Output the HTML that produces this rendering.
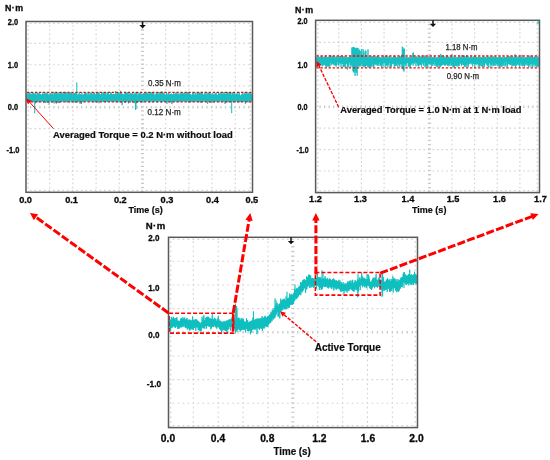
<!DOCTYPE html>
<html><head><meta charset="utf-8">
<style>
html,body{margin:0;padding:0;background:#fff;}
body{width:550px;height:460px;overflow:hidden;position:relative;}
svg{position:absolute;left:0;top:0;}
.ax{font-family:"Liberation Sans",Arial,sans-serif;font-weight:bold;fill:#0a0a0a;stroke:#0a0a0a;stroke-width:0.3px;}
.cb{font-family:"Liberation Sans",Arial,sans-serif;font-weight:bold;fill:#0d0d0d;stroke:#0d0d0d;stroke-width:0.2px;}
.cr{font-family:"Liberation Sans",Arial,sans-serif;fill:#262626;stroke:#262626;stroke-width:0.25px;}
</style></head><body>
<svg width="550" height="460" viewBox="0 0 550 460">

<line x1="49.70" y1="21.5" x2="49.70" y2="192.3" stroke="#d3d3d3" stroke-width="1.1" stroke-dasharray="1.7 2.560" stroke-dashoffset="0.850"/>
<line x1="72.90" y1="21.5" x2="72.90" y2="192.3" stroke="#d3d3d3" stroke-width="1.1" stroke-dasharray="1.7 2.560" stroke-dashoffset="0.850"/>
<line x1="96.10" y1="21.5" x2="96.10" y2="192.3" stroke="#d3d3d3" stroke-width="1.1" stroke-dasharray="1.7 2.560" stroke-dashoffset="0.850"/>
<line x1="119.30" y1="21.5" x2="119.30" y2="192.3" stroke="#d3d3d3" stroke-width="1.1" stroke-dasharray="1.7 2.560" stroke-dashoffset="0.850"/>
<line x1="165.70" y1="21.5" x2="165.70" y2="192.3" stroke="#d3d3d3" stroke-width="1.1" stroke-dasharray="1.7 2.560" stroke-dashoffset="0.850"/>
<line x1="188.90" y1="21.5" x2="188.90" y2="192.3" stroke="#d3d3d3" stroke-width="1.1" stroke-dasharray="1.7 2.560" stroke-dashoffset="0.850"/>
<line x1="212.10" y1="21.5" x2="212.10" y2="192.3" stroke="#d3d3d3" stroke-width="1.1" stroke-dasharray="1.7 2.560" stroke-dashoffset="0.850"/>
<line x1="235.30" y1="21.5" x2="235.30" y2="192.3" stroke="#d3d3d3" stroke-width="1.1" stroke-dasharray="1.7 2.560" stroke-dashoffset="0.850"/>
<line x1="26.0" y1="43.40" x2="252.5" y2="43.40" stroke="#d3d3d3" stroke-width="1.1" stroke-dasharray="1.7 2.940" stroke-dashoffset="0.850"/>
<line x1="26.0" y1="64.70" x2="252.5" y2="64.70" stroke="#d3d3d3" stroke-width="1.1" stroke-dasharray="1.7 2.940" stroke-dashoffset="0.850"/>
<line x1="26.0" y1="86.00" x2="252.5" y2="86.00" stroke="#d3d3d3" stroke-width="1.1" stroke-dasharray="1.7 2.940" stroke-dashoffset="0.850"/>
<line x1="26.0" y1="128.60" x2="252.5" y2="128.60" stroke="#d3d3d3" stroke-width="1.1" stroke-dasharray="1.7 2.940" stroke-dashoffset="0.850"/>
<line x1="26.0" y1="149.90" x2="252.5" y2="149.90" stroke="#d3d3d3" stroke-width="1.1" stroke-dasharray="1.7 2.940" stroke-dashoffset="0.850"/>
<line x1="26.0" y1="171.20" x2="252.5" y2="171.20" stroke="#d3d3d3" stroke-width="1.1" stroke-dasharray="1.7 2.940" stroke-dashoffset="0.850"/>
<line x1="28.20" y1="21.5" x2="28.20" y2="192.3" stroke="#d3d3d3" stroke-width="1.2" stroke-dasharray="1.7 2.560" stroke-dashoffset="0.850"/>
<line x1="250.30" y1="21.5" x2="250.30" y2="192.3" stroke="#d3d3d3" stroke-width="1.2" stroke-dasharray="1.7 2.560" stroke-dashoffset="0.850"/>
<line x1="26.0" y1="23.50" x2="252.5" y2="23.50" stroke="#d3d3d3" stroke-width="1.2" stroke-dasharray="1.7 2.940" stroke-dashoffset="0.850"/>
<line x1="26.0" y1="190.30" x2="252.5" y2="190.30" stroke="#d3d3d3" stroke-width="1.2" stroke-dasharray="1.7 2.940" stroke-dashoffset="0.850"/>
<line x1="142.50" y1="21.5" x2="142.50" y2="192.3" stroke="#c9c9c9" stroke-width="3" stroke-dasharray="1.3 2.960" stroke-dashoffset="0.65"/>
<line x1="26.0" y1="107.30" x2="252.5" y2="107.30" stroke="#c9c9c9" stroke-width="2.6" stroke-dasharray="1.3 3.340" stroke-dashoffset="0.65"/>
<polyline points="26.60,93.77 26.95,101.83 27.30,93.16 27.65,101.24 28.00,95.03 28.35,101.24 28.70,93.47 29.05,101.28 29.40,92.93 29.75,101.72 30.10,92.15 30.45,102.37 30.80,94.44 31.15,101.42 31.50,94.28 31.85,101.81 32.20,93.13 32.55,101.24 32.90,92.80 33.25,101.43 33.60,93.39 33.95,102.15 34.30,94.04 34.65,101.65 35.00,92.69 35.35,103.55 35.70,93.49 36.05,101.30 36.40,95.01 36.75,102.07 37.10,92.36 37.45,101.91 37.80,93.05 38.15,102.30 38.50,93.33 38.85,101.24 39.20,92.88 39.55,102.24 39.90,93.58 40.25,101.21 40.60,94.33 40.95,101.24 41.30,94.50 41.65,101.50 42.00,94.75 42.35,101.68 42.70,92.48 43.05,101.40 43.40,93.66 43.75,103.10 44.10,94.30 44.45,101.36 44.80,93.02 45.15,101.20 45.50,93.63 45.85,103.04 46.20,93.22 46.55,101.88 46.90,92.31 47.25,102.45 47.60,93.56 47.95,101.27 48.30,94.86 48.65,101.34 49.00,93.72 49.35,101.20 49.70,94.64 50.05,101.22 50.40,92.96 50.75,101.37 51.10,93.65 51.45,102.33 51.80,93.35 52.15,101.25 52.50,93.71 52.85,102.26 53.20,95.15 53.55,101.65 53.90,91.85 54.25,103.50 54.60,92.76 54.95,101.47 55.30,92.59 55.65,102.11 56.00,94.12 56.35,103.72 56.70,92.51 57.05,102.01 57.40,93.21 57.75,102.78 58.10,93.99 58.45,103.08 58.80,92.23 59.15,103.06 59.50,94.13 59.85,101.33 60.20,92.94 60.55,102.30 60.90,92.87 61.25,101.25 61.60,92.29 61.95,102.03 62.30,94.29 62.65,101.44 63.00,92.16 63.35,101.51 63.70,92.70 64.05,101.28 64.40,92.30 64.75,101.29 65.10,92.14 65.45,101.46 65.80,92.54 66.15,101.83 66.50,92.24 66.85,102.43 67.20,94.16 67.55,101.41 67.90,93.03 68.25,101.53 68.60,92.29 68.95,101.57 69.30,92.30 69.65,102.70 70.00,93.17 70.35,101.21 70.70,92.57 71.05,101.31 71.40,92.70 71.75,101.44 72.10,93.11 72.45,101.27 72.80,94.03 73.15,102.09 73.50,93.09 73.85,102.66 74.20,92.97 74.55,101.63 74.90,93.39 75.25,101.59 75.60,92.76 75.95,102.91 76.30,93.10 76.65,102.30 77.00,94.54 77.35,101.25 77.70,94.79 78.05,102.12 78.40,94.39 78.75,101.85 79.10,92.34 79.45,101.35 79.80,93.54 80.15,103.96 80.50,94.36 80.85,101.63 81.20,94.22 81.55,104.08 81.90,92.42 82.25,101.79 82.60,94.84 82.95,102.13 83.30,94.62 83.65,101.22 84.00,93.95 84.35,101.53 84.70,92.48 85.05,101.30 85.40,93.07 85.75,101.26 86.10,92.78 86.45,101.25 86.80,92.91 87.15,101.25 87.50,94.83 87.85,101.56 88.20,93.12 88.55,101.39 88.90,93.19 89.25,101.27 89.60,94.93 89.95,101.42 90.30,92.62 90.65,101.62 91.00,92.82 91.35,101.21 91.70,93.12 92.05,101.59 92.40,94.61 92.75,101.54 93.10,92.45 93.45,101.62 93.80,92.14 94.15,102.27 94.50,92.91 94.85,101.46 95.20,94.50 95.55,102.01 95.90,94.35 96.25,102.30 96.60,92.82 96.95,101.37 97.30,93.37 97.65,101.55 98.00,92.18 98.35,101.68 98.70,92.17 99.05,103.23 99.40,93.33 99.75,101.33 100.10,95.36 100.45,101.26 100.80,94.04 101.15,101.36 101.50,93.18 101.85,101.84 102.20,92.35 102.55,101.44 102.90,94.41 103.25,101.82 103.60,92.45 103.95,101.79 104.30,92.50 104.65,101.65 105.00,92.45 105.35,102.25 105.70,92.32 106.05,101.91 106.40,95.08 106.75,101.47 107.10,92.45 107.45,101.79 107.80,92.80 108.15,101.20 108.50,92.64 108.85,101.66 109.20,94.83 109.55,101.37 109.90,93.97 110.25,101.34 110.60,92.15 110.95,101.49 111.30,92.79 111.65,101.78 112.00,94.77 112.35,101.38 112.70,93.83 113.05,101.21 113.40,93.95 113.75,101.91 114.10,93.88 114.45,101.57 114.80,94.55 115.15,101.33 115.50,91.04 115.85,102.23 116.20,93.40 116.55,101.34 116.90,94.16 117.25,101.29 117.60,92.20 117.95,102.23 118.30,92.34 118.65,101.36 119.00,92.79 119.35,101.61 119.70,93.84 120.05,101.45 120.40,90.81 120.75,102.30 121.10,92.25 121.45,102.59 121.80,93.62 122.15,105.23 122.50,93.66 122.85,101.39 123.20,94.64 123.55,101.40 123.90,94.02 124.25,101.63 124.60,93.62 124.95,102.49 125.30,92.92 125.65,102.90 126.00,92.71 126.35,101.99 126.70,92.63 127.05,101.40 127.40,92.25 127.75,101.58 128.10,93.86 128.45,103.45 128.80,92.86 129.15,101.69 129.50,94.34 129.85,101.34 130.20,93.26 130.55,102.62 130.90,93.39 131.25,101.33 131.60,93.71 131.95,101.36 132.30,93.07 132.65,102.03 133.00,93.50 133.35,101.48 133.70,94.86 134.05,103.26 134.40,93.25 134.75,102.39 135.10,93.95 135.45,101.51 135.80,92.19 136.15,103.50 136.50,92.73 136.85,101.58 137.20,95.48 137.55,102.77 137.90,92.40 138.25,101.37 138.60,94.39 138.95,101.89 139.30,92.70 139.65,102.07 140.00,93.12 140.35,102.11 140.70,92.27 141.05,101.42 141.40,94.01 141.75,101.92 142.10,94.81 142.45,101.72 142.80,94.12 143.15,101.21 143.50,93.36 143.85,101.82 144.20,93.32 144.55,101.37 144.90,92.74 145.25,101.21 145.60,92.82 145.95,101.38 146.30,92.26 146.65,101.22 147.00,93.48 147.35,101.33 147.70,92.66 148.05,101.34 148.40,93.81 148.75,101.36 149.10,92.62 149.45,103.02 149.80,94.26 150.15,101.52 150.50,92.21 150.85,101.50 151.20,92.15 151.55,101.23 151.90,93.56 152.25,102.49 152.60,92.11 152.95,101.44 153.30,92.23 153.65,101.22 154.00,93.60 154.35,101.44 154.70,95.40 155.05,101.46 155.40,94.53 155.75,101.34 156.10,92.48 156.45,101.54 156.80,93.33 157.15,102.71 157.50,93.65 157.85,101.22 158.20,92.50 158.55,101.22 158.90,94.86 159.25,101.38 159.60,92.31 159.95,101.39 160.30,92.96 160.65,101.96 161.00,92.30 161.35,102.69 161.70,91.37 162.05,101.59 162.40,92.19 162.75,101.37 163.10,93.27 163.45,101.32 163.80,92.67 164.15,102.09 164.50,93.76 164.85,101.47 165.20,94.76 165.55,102.04 165.90,94.84 166.25,101.68 166.60,92.14 166.95,103.84 167.30,94.73 167.65,101.61 168.00,93.40 168.35,101.52 168.70,92.82 169.05,102.33 169.40,94.54 169.75,101.41 170.10,93.62 170.45,101.33 170.80,94.04 171.15,102.49 171.50,93.76 171.85,104.13 172.20,94.09 172.55,101.84 172.90,94.63 173.25,102.23 173.60,92.28 173.95,101.41 174.30,94.25 174.65,101.73 175.00,93.62 175.35,101.56 175.70,92.58 176.05,101.27 176.40,92.95 176.75,101.48 177.10,94.19 177.45,101.75 177.80,93.20 178.15,101.88 178.50,93.81 178.85,102.15 179.20,94.85 179.55,101.50 179.90,92.90 180.25,101.31 180.60,93.51 180.95,101.42 181.30,93.81 181.65,101.47 182.00,92.38 182.35,101.47 182.70,92.69 183.05,101.20 183.40,93.47 183.75,101.51 184.10,93.36 184.45,101.21 184.80,92.90 185.15,101.26 185.50,93.63 185.85,101.29 186.20,93.20 186.55,101.27 186.90,92.52 187.25,101.33 187.60,92.22 187.95,101.60 188.30,92.25 188.65,102.61 189.00,92.47 189.35,102.12 189.70,93.52 190.05,102.26 190.40,94.14 190.75,101.64 191.10,94.53 191.45,101.97 191.80,95.00 192.15,102.05 192.50,92.44 192.85,101.75 193.20,92.93 193.55,101.53 193.90,93.46 194.25,101.56 194.60,95.14 194.95,101.60 195.30,92.61 195.65,101.57 196.00,93.33 196.35,101.28 196.70,94.69 197.05,101.63 197.40,92.91 197.75,101.99 198.10,93.23 198.45,101.62 198.80,92.20 199.15,102.37 199.50,92.68 199.85,101.33 200.20,93.28 200.55,102.69 200.90,92.55 201.25,101.24 201.60,92.62 201.95,102.56 202.30,92.49 202.65,101.62 203.00,94.17 203.35,101.62 203.70,95.03 204.05,101.31 204.40,92.80 204.75,101.31 205.10,94.57 205.45,101.81 205.80,92.37 206.15,101.72 206.50,94.62 206.85,101.80 207.20,92.53 207.55,103.99 207.90,93.66 208.25,101.55 208.60,92.65 208.95,102.23 209.30,92.90 209.65,101.73 210.00,93.26 210.35,101.30 210.70,93.44 211.05,102.56 211.40,94.10 211.75,102.92 212.10,94.61 212.45,101.35 212.80,93.02 213.15,101.79 213.50,94.48 213.85,101.37 214.20,94.67 214.55,102.43 214.90,93.53 215.25,101.21 215.60,93.09 215.95,101.82 216.30,92.23 216.65,101.37 217.00,94.98 217.35,101.51 217.70,94.88 218.05,101.21 218.40,92.22 218.75,101.33 219.10,93.24 219.45,102.21 219.80,93.82 220.15,101.23 220.50,92.56 220.85,101.20 221.20,92.65 221.55,102.01 221.90,94.11 222.25,101.36 222.60,93.73 222.95,101.91 223.30,92.73 223.65,101.68 224.00,92.55 224.35,101.38 224.70,92.17 225.05,103.99 225.40,94.07 225.75,102.94 226.10,93.76 226.45,101.44 226.80,92.29 227.15,101.91 227.50,92.14 227.85,102.30 228.20,92.40 228.55,101.97 228.90,93.82 229.25,101.78 229.60,92.29 229.95,101.22 230.30,92.25 230.65,102.38 231.00,92.77 231.35,101.92 231.70,94.84 232.05,101.47 232.40,92.48 232.75,101.24 233.10,92.28 233.45,101.27 233.80,94.59 234.15,102.33 234.50,92.91 234.85,101.80 235.20,94.65 235.55,102.05 235.90,93.79 236.25,101.21 236.60,93.91 236.95,101.48 237.30,92.17 237.65,102.34 238.00,95.08 238.35,101.54 238.70,93.70 239.05,101.66 239.40,92.39 239.75,102.23 240.10,95.44 240.45,102.06 240.80,95.37 241.15,101.61 241.50,94.27 241.85,101.46 242.20,93.98 242.55,101.40 242.90,92.76 243.25,101.27 243.60,94.75 243.95,101.92 244.30,92.93 244.65,101.51 245.00,92.33 245.35,103.93 245.70,93.97 246.05,101.62 246.40,92.34 246.75,101.57 247.10,92.63 247.45,101.82 247.80,93.76 248.15,102.31 248.50,92.66 248.85,101.55 249.20,93.05 249.55,101.57 249.90,94.06 250.25,101.42 250.60,92.43 250.95,101.30 251.30,93.76 251.65,101.31 252.00,94.25" fill="none" stroke="#0fbec0" stroke-width="0.8" stroke-linejoin="bevel"/>
<line x1="76.8" y1="82.3" x2="76.8" y2="95" stroke="#0fbec0" stroke-width="1"/>
<line x1="34.7" y1="100" x2="34.7" y2="113.4" stroke="#0fbec0" stroke-width="1"/>
<line x1="136" y1="100" x2="136" y2="109.2" stroke="#0fbec0" stroke-width="1"/>
<line x1="231.7" y1="100" x2="231.7" y2="113.2" stroke="#0fbec0" stroke-width="1"/>
<line x1="135.6" y1="100" x2="135.6" y2="110" stroke="#0fbec0" stroke-width="1"/>
<line x1="49" y1="99" x2="49" y2="105" stroke="#0fbec0" stroke-width="1"/>
<line x1="338.80" y1="20.3" x2="338.80" y2="192.6" stroke="#d3d3d3" stroke-width="1.1" stroke-dasharray="1.7 2.590" stroke-dashoffset="0.850"/>
<line x1="361.44" y1="20.3" x2="361.44" y2="192.6" stroke="#d3d3d3" stroke-width="1.1" stroke-dasharray="1.7 2.590" stroke-dashoffset="0.850"/>
<line x1="384.08" y1="20.3" x2="384.08" y2="192.6" stroke="#d3d3d3" stroke-width="1.1" stroke-dasharray="1.7 2.590" stroke-dashoffset="0.850"/>
<line x1="406.72" y1="20.3" x2="406.72" y2="192.6" stroke="#d3d3d3" stroke-width="1.1" stroke-dasharray="1.7 2.590" stroke-dashoffset="0.850"/>
<line x1="452.00" y1="20.3" x2="452.00" y2="192.6" stroke="#d3d3d3" stroke-width="1.1" stroke-dasharray="1.7 2.590" stroke-dashoffset="0.850"/>
<line x1="474.64" y1="20.3" x2="474.64" y2="192.6" stroke="#d3d3d3" stroke-width="1.1" stroke-dasharray="1.7 2.590" stroke-dashoffset="0.850"/>
<line x1="497.28" y1="20.3" x2="497.28" y2="192.6" stroke="#d3d3d3" stroke-width="1.1" stroke-dasharray="1.7 2.590" stroke-dashoffset="0.850"/>
<line x1="519.92" y1="20.3" x2="519.92" y2="192.6" stroke="#d3d3d3" stroke-width="1.1" stroke-dasharray="1.7 2.590" stroke-dashoffset="0.850"/>
<line x1="315.6" y1="42.35" x2="539.5" y2="42.35" stroke="#d3d3d3" stroke-width="1.1" stroke-dasharray="1.7 2.828" stroke-dashoffset="0.850"/>
<line x1="315.6" y1="63.80" x2="539.5" y2="63.80" stroke="#d3d3d3" stroke-width="1.1" stroke-dasharray="1.7 2.828" stroke-dashoffset="0.850"/>
<line x1="315.6" y1="85.25" x2="539.5" y2="85.25" stroke="#d3d3d3" stroke-width="1.1" stroke-dasharray="1.7 2.828" stroke-dashoffset="0.850"/>
<line x1="315.6" y1="128.15" x2="539.5" y2="128.15" stroke="#d3d3d3" stroke-width="1.1" stroke-dasharray="1.7 2.828" stroke-dashoffset="0.850"/>
<line x1="315.6" y1="149.60" x2="539.5" y2="149.60" stroke="#d3d3d3" stroke-width="1.1" stroke-dasharray="1.7 2.828" stroke-dashoffset="0.850"/>
<line x1="315.6" y1="171.05" x2="539.5" y2="171.05" stroke="#d3d3d3" stroke-width="1.1" stroke-dasharray="1.7 2.828" stroke-dashoffset="0.850"/>
<line x1="317.80" y1="20.3" x2="317.80" y2="192.6" stroke="#d3d3d3" stroke-width="1.2" stroke-dasharray="1.7 2.590" stroke-dashoffset="0.850"/>
<line x1="537.30" y1="20.3" x2="537.30" y2="192.6" stroke="#d3d3d3" stroke-width="1.2" stroke-dasharray="1.7 2.590" stroke-dashoffset="0.850"/>
<line x1="315.6" y1="22.30" x2="539.5" y2="22.30" stroke="#d3d3d3" stroke-width="1.2" stroke-dasharray="1.7 2.828" stroke-dashoffset="0.850"/>
<line x1="315.6" y1="190.60" x2="539.5" y2="190.60" stroke="#d3d3d3" stroke-width="1.2" stroke-dasharray="1.7 2.828" stroke-dashoffset="0.850"/>
<line x1="429.36" y1="20.3" x2="429.36" y2="192.6" stroke="#c9c9c9" stroke-width="3" stroke-dasharray="1.3 2.990" stroke-dashoffset="0.65"/>
<line x1="315.6" y1="106.70" x2="539.5" y2="106.70" stroke="#c9c9c9" stroke-width="2.6" stroke-dasharray="1.3 3.228" stroke-dashoffset="0.65"/>
<polyline points="316.20,56.82 316.55,67.28 316.90,57.31 317.25,66.74 317.60,57.26 317.95,66.17 318.30,57.46 318.65,62.67 319.00,56.66 319.35,65.63 319.70,57.23 320.05,66.04 320.40,56.79 320.75,65.32 321.10,56.77 321.45,64.29 321.80,56.33 322.15,66.40 322.50,56.92 322.85,65.43 323.20,57.01 323.55,65.27 323.90,56.85 324.25,64.41 324.60,57.24 324.95,65.23 325.30,56.00 325.65,66.24 326.00,57.30 326.35,67.32 326.70,57.13 327.05,66.69 327.40,57.16 327.75,65.93 328.10,56.84 328.45,66.18 328.80,57.16 329.15,67.24 329.50,56.91 329.85,66.62 330.20,55.10 330.55,62.95 330.90,55.46 331.25,65.28 331.60,57.34 331.95,64.26 332.30,55.91 332.65,64.23 333.00,57.30 333.35,63.62 333.70,56.60 334.05,65.49 334.40,57.45 334.75,64.96 335.10,56.58 335.45,65.49 335.80,57.12 336.15,66.87 336.50,56.46 336.85,65.07 337.20,57.27 337.55,62.02 337.90,57.40 338.25,64.70 338.60,57.26 338.95,66.25 339.30,56.02 339.65,62.96 340.00,56.18 340.35,63.70 340.70,55.98 341.05,67.25 341.40,57.43 341.75,63.72 342.10,56.70 342.45,63.79 342.80,56.66 343.15,67.06 343.50,56.69 343.85,67.07 344.20,56.50 344.55,66.38 344.90,56.79 345.25,67.03 345.60,57.42 345.95,63.69 346.30,57.56 346.65,63.73 347.00,57.19 347.35,69.65 347.70,57.22 348.05,66.28 348.40,57.32 348.75,67.28 349.10,56.99 349.45,62.59 349.80,56.91 350.15,64.85 350.50,57.17 350.85,67.08 351.20,56.84 351.55,64.89 351.90,47.51 352.25,66.65 352.60,47.59 352.95,71.33 353.30,46.88 353.65,72.37 354.00,46.99 354.35,72.49 354.70,48.01 355.05,76.00 355.40,48.50 355.75,71.57 356.10,47.74 356.45,72.72 356.80,47.87 357.15,75.69 357.50,48.14 357.85,67.13 358.20,48.17 358.55,65.88 358.90,51.15 359.25,66.19 359.60,49.59 359.95,66.79 360.30,50.94 360.65,66.00 361.00,55.23 361.35,63.40 361.70,49.02 362.05,66.34 362.40,55.56 362.75,66.05 363.10,49.25 363.45,66.66 363.80,52.14 364.15,66.44 364.50,55.98 364.85,67.49 365.20,50.56 365.55,66.51 365.90,50.84 366.25,65.93 366.60,56.92 366.95,65.01 367.30,57.00 367.65,66.71 368.00,49.30 368.35,67.32 368.70,56.55 369.05,67.33 369.40,57.05 369.75,67.05 370.10,56.91 370.45,66.78 370.80,57.60 371.15,65.98 371.50,56.29 371.85,66.87 372.20,56.39 372.55,64.55 372.90,56.61 373.25,67.13 373.60,57.55 373.95,66.74 374.30,56.77 374.65,64.32 375.00,56.92 375.35,64.15 375.70,56.77 376.05,65.45 376.40,56.61 376.75,64.31 377.10,56.24 377.45,65.72 377.80,57.07 378.15,64.06 378.50,56.88 378.85,65.89 379.20,57.16 379.55,62.81 379.90,57.32 380.25,66.15 380.60,57.50 380.95,64.92 381.30,57.59 381.65,67.37 382.00,57.20 382.35,64.48 382.70,57.27 383.05,66.64 383.40,55.61 383.75,62.73 384.10,57.48 384.45,62.89 384.80,56.37 385.15,67.24 385.50,57.56 385.85,65.17 386.20,55.68 386.55,65.89 386.90,55.72 387.25,65.15 387.60,57.50 387.95,67.37 388.30,57.58 388.65,64.95 389.00,56.19 389.35,62.84 389.70,56.86 390.05,67.35 390.40,57.51 390.75,67.21 391.10,57.39 391.45,66.61 391.80,57.37 392.15,63.58 392.50,57.49 392.85,63.72 393.20,57.59 393.55,64.08 393.90,56.02 394.25,67.19 394.60,56.28 394.95,65.40 395.30,56.01 395.65,66.14 396.00,57.35 396.35,65.53 396.70,57.51 397.05,62.96 397.40,57.12 397.75,66.99 398.10,57.28 398.45,64.53 398.80,57.36 399.15,65.59 399.50,56.20 399.85,67.33 400.20,56.25 400.55,64.18 400.90,57.40 401.25,64.12 401.60,54.77 401.95,67.17 402.30,46.67 402.65,69.06 403.00,47.52 403.35,70.42 403.70,49.24 404.05,71.59 404.40,48.63 404.75,64.09 405.10,57.55 405.45,65.61 405.80,57.46 406.15,66.43 406.50,57.08 406.85,63.05 407.20,57.29 407.55,62.94 407.90,57.36 408.25,66.97 408.60,57.59 408.95,65.53 409.30,57.41 409.65,66.86 410.00,57.49 410.35,68.05 410.70,57.25 411.05,63.55 411.40,56.58 411.75,64.80 412.10,57.31 412.45,63.00 412.80,53.03 413.15,65.75 413.50,52.45 413.85,64.00 414.20,57.43 414.55,62.62 414.90,56.88 415.25,62.41 415.60,57.08 415.95,66.41 416.30,56.38 416.65,62.82 417.00,57.19 417.35,64.58 417.70,57.29 418.05,66.00 418.40,57.50 418.75,66.57 419.10,56.55 419.45,65.13 419.80,56.50 420.15,65.16 420.50,56.70 420.85,64.36 421.20,57.26 421.55,66.77 421.90,56.59 422.25,62.92 422.60,55.70 422.95,64.41 423.30,57.00 423.65,65.75 424.00,57.26 424.35,62.47 424.70,55.50 425.05,67.20 425.40,56.61 425.75,67.03 426.10,56.98 426.45,66.32 426.80,57.13 427.15,66.11 427.50,57.16 427.85,67.25 428.20,57.38 428.55,63.55 428.90,55.72 429.25,64.52 429.60,57.14 429.95,63.58 430.30,57.39 430.65,64.63 431.00,57.54 431.35,66.89 431.70,57.09 432.05,64.12 432.40,57.23 432.75,66.08 433.10,57.38 433.45,64.24 433.80,57.31 434.15,62.29 434.50,56.41 434.85,65.86 435.20,57.40 435.55,64.66 435.90,57.50 436.25,66.99 436.60,57.56 436.95,65.36 437.30,57.53 437.65,67.27 438.00,57.50 438.35,64.96 438.70,57.03 439.05,66.82 439.40,56.79 439.75,66.61 440.10,56.68 440.45,67.13 440.80,53.84 441.15,65.97 441.50,55.63 441.85,65.27 442.20,56.36 442.55,65.09 442.90,57.23 443.25,64.65 443.60,57.11 443.95,64.80 444.30,56.46 444.65,65.38 445.00,57.38 445.35,65.93 445.70,57.54 446.05,64.81 446.40,56.51 446.75,64.14 447.10,55.06 447.45,65.89 447.80,56.08 448.15,65.78 448.50,57.16 448.85,66.35 449.20,57.33 449.55,64.95 449.90,56.92 450.25,63.37 450.60,57.29 450.95,65.93 451.30,55.60 451.65,65.37 452.00,54.27 452.35,65.75 452.70,57.49 453.05,67.33 453.40,57.17 453.75,67.07 454.10,56.57 454.45,67.05 454.80,57.50 455.15,65.67 455.50,57.47 455.85,66.14 456.20,57.34 456.55,66.17 456.90,57.28 457.25,64.72 457.60,57.60 457.95,66.90 458.30,56.94 458.65,65.62 459.00,57.41 459.35,65.76 459.70,57.09 460.05,63.56 460.40,56.74 460.75,63.38 461.10,57.16 461.45,66.08 461.80,55.02 462.15,64.81 462.50,57.34 462.85,64.51 463.20,56.19 463.55,64.94 463.90,57.31 464.25,67.05 464.60,55.67 464.95,66.11 465.30,57.57 465.65,66.94 466.00,56.23 466.35,64.71 466.70,55.67 467.05,67.24 467.40,57.30 467.75,64.24 468.10,56.35 468.45,66.73 468.80,57.49 469.15,64.02 469.50,57.39 469.85,63.50 470.20,57.31 470.55,63.05 470.90,56.55 471.25,64.38 471.60,57.40 471.95,62.68 472.30,57.35 472.65,66.42 473.00,57.41 473.35,63.61 473.70,56.51 474.05,63.84 474.40,56.83 474.75,67.27 475.10,55.79 475.45,64.28 475.80,57.52 476.15,64.47 476.50,57.07 476.85,64.39 477.20,57.46 477.55,63.57 477.90,57.13 478.25,66.66 478.60,56.96 478.95,64.74 479.30,57.55 479.65,66.92 480.00,56.95 480.35,65.88 480.70,57.18 481.05,63.05 481.40,57.45 481.75,66.46 482.10,57.29 482.45,66.67 482.80,56.41 483.15,66.92 483.50,56.95 483.85,65.24 484.20,56.88 484.55,66.91 484.90,57.01 485.25,63.51 485.60,56.81 485.95,62.76 486.30,57.49 486.65,64.70 487.00,57.58 487.35,66.17 487.70,56.50 488.05,66.46 488.40,57.26 488.75,67.61 489.10,56.70 489.45,62.79 489.80,57.04 490.15,64.38 490.50,56.66 490.85,67.13 491.20,57.55 491.55,65.15 491.90,56.54 492.25,63.29 492.60,57.27 492.95,66.37 493.30,56.54 493.65,65.42 494.00,56.88 494.35,65.67 494.70,57.52 495.05,62.80 495.40,56.62 495.75,65.82 496.10,56.99 496.45,64.41 496.80,57.33 497.15,64.12 497.50,57.51 497.85,66.29 498.20,57.43 498.55,65.39 498.90,57.34 499.25,67.04 499.60,57.10 499.95,66.81 500.30,56.74 500.65,66.28 501.00,57.23 501.35,66.86 501.70,57.40 502.05,64.15 502.40,57.40 502.75,66.41 503.10,57.53 503.45,65.49 503.80,57.49 504.15,62.26 504.50,56.77 504.85,66.46 505.20,57.10 505.55,65.58 505.90,57.47 506.25,62.20 506.60,56.98 506.95,67.20 507.30,57.43 507.65,66.24 508.00,56.50 508.35,64.02 508.70,56.48 509.05,63.90 509.40,56.54 509.75,64.83 510.10,56.55 510.45,65.03 510.80,57.32 511.15,64.35 511.50,57.10 511.85,66.82 512.20,56.19 512.55,65.60 512.90,57.50 513.25,65.95 513.60,56.90 513.95,65.38 514.30,57.54 514.65,65.36 515.00,54.15 515.35,66.94 515.70,57.27 516.05,66.26 516.40,57.27 516.75,65.36 517.10,56.55 517.45,63.88 517.80,57.25 518.15,64.93 518.50,57.55 518.85,65.46 519.20,56.16 519.55,67.32 519.90,57.02 520.25,62.99 520.60,57.04 520.95,65.92 521.30,57.21 521.65,64.68 522.00,54.92 522.35,66.32 522.70,57.55 523.05,65.05 523.40,57.28 523.75,65.89 524.10,57.53 524.45,67.05 524.80,57.53 525.15,64.43 525.50,57.15 525.85,65.58 526.20,57.45 526.55,63.49 526.90,57.07 527.25,65.22 527.60,57.25 527.95,65.83 528.30,56.75 528.65,67.37 529.00,57.54 529.35,65.15 529.70,55.67 530.05,66.67 530.40,56.70 530.75,64.34 531.10,57.59 531.45,64.19 531.80,56.86 532.15,67.05 532.50,56.37 532.85,67.14 533.20,57.49 533.55,64.90 533.90,56.92 534.25,63.57 534.60,56.80 534.95,66.48 535.30,57.04 535.65,65.83 536.00,57.53 536.35,66.31 536.70,57.47 537.05,66.88 537.40,56.31 537.75,66.76 538.10,57.12 538.45,66.36 538.80,57.51" fill="none" stroke="#0fbec0" stroke-width="0.8" stroke-linejoin="bevel"/>
<line x1="193.37" y1="237.3" x2="193.37" y2="427.6" stroke="#d3d3d3" stroke-width="1.1" stroke-dasharray="1.7 3.034" stroke-dashoffset="0.850"/>
<line x1="218.24" y1="237.3" x2="218.24" y2="427.6" stroke="#d3d3d3" stroke-width="1.1" stroke-dasharray="1.7 3.034" stroke-dashoffset="0.850"/>
<line x1="243.11" y1="237.3" x2="243.11" y2="427.6" stroke="#d3d3d3" stroke-width="1.1" stroke-dasharray="1.7 3.034" stroke-dashoffset="0.850"/>
<line x1="267.98" y1="237.3" x2="267.98" y2="427.6" stroke="#d3d3d3" stroke-width="1.1" stroke-dasharray="1.7 3.034" stroke-dashoffset="0.850"/>
<line x1="317.72" y1="237.3" x2="317.72" y2="427.6" stroke="#d3d3d3" stroke-width="1.1" stroke-dasharray="1.7 3.034" stroke-dashoffset="0.850"/>
<line x1="342.59" y1="237.3" x2="342.59" y2="427.6" stroke="#d3d3d3" stroke-width="1.1" stroke-dasharray="1.7 3.034" stroke-dashoffset="0.850"/>
<line x1="367.46" y1="237.3" x2="367.46" y2="427.6" stroke="#d3d3d3" stroke-width="1.1" stroke-dasharray="1.7 3.034" stroke-dashoffset="0.850"/>
<line x1="392.33" y1="237.3" x2="392.33" y2="427.6" stroke="#d3d3d3" stroke-width="1.1" stroke-dasharray="1.7 3.034" stroke-dashoffset="0.850"/>
<line x1="168.5" y1="261.27" x2="417.5" y2="261.27" stroke="#d3d3d3" stroke-width="1.1" stroke-dasharray="1.7 3.274" stroke-dashoffset="0.850"/>
<line x1="168.5" y1="284.94" x2="417.5" y2="284.94" stroke="#d3d3d3" stroke-width="1.1" stroke-dasharray="1.7 3.274" stroke-dashoffset="0.850"/>
<line x1="168.5" y1="308.61" x2="417.5" y2="308.61" stroke="#d3d3d3" stroke-width="1.1" stroke-dasharray="1.7 3.274" stroke-dashoffset="0.850"/>
<line x1="168.5" y1="355.95" x2="417.5" y2="355.95" stroke="#d3d3d3" stroke-width="1.1" stroke-dasharray="1.7 3.274" stroke-dashoffset="0.850"/>
<line x1="168.5" y1="379.62" x2="417.5" y2="379.62" stroke="#d3d3d3" stroke-width="1.1" stroke-dasharray="1.7 3.274" stroke-dashoffset="0.850"/>
<line x1="168.5" y1="403.29" x2="417.5" y2="403.29" stroke="#d3d3d3" stroke-width="1.1" stroke-dasharray="1.7 3.274" stroke-dashoffset="0.850"/>
<line x1="170.70" y1="237.3" x2="170.70" y2="427.6" stroke="#d3d3d3" stroke-width="1.2" stroke-dasharray="1.7 3.034" stroke-dashoffset="0.850"/>
<line x1="415.30" y1="237.3" x2="415.30" y2="427.6" stroke="#d3d3d3" stroke-width="1.2" stroke-dasharray="1.7 3.034" stroke-dashoffset="0.850"/>
<line x1="168.5" y1="239.30" x2="417.5" y2="239.30" stroke="#d3d3d3" stroke-width="1.2" stroke-dasharray="1.7 3.274" stroke-dashoffset="0.850"/>
<line x1="168.5" y1="425.60" x2="417.5" y2="425.60" stroke="#d3d3d3" stroke-width="1.2" stroke-dasharray="1.7 3.274" stroke-dashoffset="0.850"/>
<line x1="292.85" y1="237.3" x2="292.85" y2="427.6" stroke="#c9c9c9" stroke-width="3" stroke-dasharray="1.3 3.434" stroke-dashoffset="0.65"/>
<line x1="168.5" y1="332.28" x2="417.5" y2="332.28" stroke="#c9c9c9" stroke-width="2.6" stroke-dasharray="1.3 3.674" stroke-dashoffset="0.65"/>
<polyline points="169.10,319.89 169.40,326.87 169.70,319.04 170.00,330.05 170.30,319.83 170.60,331.37 170.90,320.15 171.20,327.51 171.50,316.87 171.80,328.16 172.10,319.35 172.40,327.28 172.70,318.32 173.00,326.13 173.30,316.75 173.60,326.45 173.90,319.14 174.20,326.18 174.50,318.37 174.80,327.48 175.10,318.12 175.40,327.81 175.70,320.04 176.00,326.88 176.30,318.13 176.60,325.07 176.90,317.34 177.20,327.07 177.50,320.75 177.80,328.78 178.10,320.85 178.40,328.65 178.70,320.72 179.00,328.75 179.30,320.90 179.60,327.83 179.90,321.06 180.20,326.86 180.50,318.67 180.80,327.44 181.10,319.23 181.40,326.49 181.70,317.91 182.00,327.26 182.30,319.26 182.60,326.42 182.90,317.22 183.20,325.92 183.50,318.72 183.80,326.77 184.10,318.65 184.40,324.78 184.70,317.51 185.00,327.14 185.30,319.97 185.60,328.02 185.90,318.92 186.20,328.21 186.50,318.74 186.80,326.44 187.10,318.15 187.40,329.52 187.70,320.30 188.00,327.73 188.30,320.55 188.60,328.22 188.90,319.53 189.20,329.82 189.50,320.50 189.80,330.57 190.10,319.73 190.40,329.38 190.70,320.07 191.00,328.89 191.30,321.23 191.60,328.52 191.90,320.25 192.20,329.66 192.50,316.50 192.80,328.75 193.10,319.65 193.40,330.03 193.70,320.46 194.00,326.80 194.30,320.30 194.60,327.91 194.90,319.43 195.20,326.79 195.50,319.38 195.80,330.74 196.10,319.83 196.40,327.34 196.70,319.42 197.00,327.17 197.30,320.71 197.60,327.39 197.90,320.81 198.20,329.84 198.50,321.26 198.80,330.13 199.10,321.91 199.40,330.33 199.70,322.77 200.00,331.22 200.30,323.87 200.60,331.37 200.90,322.59 201.20,331.19 201.50,322.50 201.80,328.43 202.10,316.70 202.40,327.13 202.70,320.56 203.00,328.03 203.30,318.56 203.60,328.26 203.90,315.24 204.20,328.20 204.50,320.18 204.80,328.77 205.10,320.38 205.40,326.17 205.70,318.14 206.00,325.44 206.30,317.13 206.60,328.57 206.90,317.04 207.20,325.99 207.50,316.78 207.80,325.76 208.10,317.31 208.40,325.93 208.70,316.77 209.00,326.92 209.30,318.30 209.60,326.41 209.90,318.82 210.20,326.13 210.50,318.52 210.80,329.40 211.10,318.59 211.40,328.18 211.70,319.24 212.00,326.63 212.30,314.36 212.60,326.66 212.90,318.58 213.20,325.82 213.50,319.14 213.80,327.15 214.10,319.86 214.40,325.94 214.70,317.83 215.00,325.54 215.30,318.82 215.60,326.43 215.90,319.22 216.20,327.99 216.50,320.80 216.80,328.66 217.10,320.87 217.40,326.96 217.70,318.80 218.00,325.10 218.30,315.86 218.60,327.27 218.90,319.13 219.20,327.25 219.50,320.99 219.80,329.13 220.10,320.59 220.40,330.45 220.70,321.84 221.00,329.10 221.30,321.51 221.60,332.29 221.90,321.87 222.20,330.61 222.50,322.85 222.80,329.37 223.10,321.32 223.40,329.92 223.70,322.27 224.00,330.31 224.30,321.13 224.60,329.83 224.90,321.57 225.20,331.12 225.50,322.53 225.80,330.76 226.10,320.71 226.40,330.46 226.70,320.96 227.00,333.80 227.30,320.17 227.60,329.85 227.90,322.38 228.20,329.46 228.50,320.23 228.80,329.10 229.10,319.20 229.40,326.84 229.70,319.99 230.00,327.13 230.30,319.42 230.60,330.62 230.90,318.77 231.20,327.01 231.50,319.89 231.80,325.88 232.10,317.33 232.40,327.83 232.70,319.44 233.00,327.45 233.30,318.75 233.60,327.96 233.90,318.35 234.20,327.16 234.50,318.88 234.80,328.53 235.10,320.35 235.40,328.35 235.70,320.58 236.00,329.63 236.30,320.31 236.60,331.11 236.90,317.96 237.20,329.85 237.50,319.59 237.80,329.80 238.10,318.09 238.40,328.94 238.70,317.58 239.00,329.26 239.30,318.38 239.60,329.91 239.90,319.83 240.20,331.57 240.50,320.20 240.80,330.17 241.10,318.34 241.40,330.29 241.70,318.10 242.00,327.64 242.30,319.04 242.60,329.86 242.90,318.80 243.20,328.65 243.50,319.20 243.80,330.09 244.10,321.85 244.40,328.83 244.70,321.51 245.00,329.91 245.30,321.85 245.60,332.47 245.90,321.81 246.20,327.61 246.50,318.22 246.80,329.09 247.10,320.01 247.40,330.73 247.70,320.51 248.00,330.81 248.30,322.53 248.60,331.10 248.90,322.52 249.20,330.54 249.50,321.58 249.80,330.61 250.10,321.96 250.40,334.22 250.70,321.32 251.00,331.90 251.30,320.66 251.60,332.51 251.90,321.24 252.20,329.95 252.50,319.68 252.80,328.92 253.10,317.25 253.40,328.86 253.70,318.34 254.00,329.79 254.30,320.05 254.60,328.49 254.90,320.67 255.20,329.44 255.50,319.11 255.80,329.33 256.10,319.37 256.40,328.03 256.70,318.84 257.00,334.23 257.30,318.51 257.60,327.48 257.90,319.73 258.20,328.46 258.50,318.58 258.80,328.49 259.10,319.65 259.40,329.81 259.70,318.66 260.00,328.73 260.30,318.15 260.60,327.78 260.90,320.50 261.20,327.72 261.50,318.49 261.80,328.85 262.10,316.07 262.40,331.03 262.70,318.14 263.00,327.56 263.30,317.56 263.60,328.34 263.90,319.80 264.20,328.51 264.50,316.96 264.80,327.44 265.10,315.71 265.40,326.22 265.70,317.51 266.00,326.02 266.30,317.67 266.60,326.57 266.90,317.50 267.20,326.86 267.50,316.40 267.80,326.98 268.10,316.26 268.40,325.01 268.70,315.79 269.00,323.54 269.30,314.94 269.60,323.35 269.90,314.39 270.20,323.09 270.50,313.82 270.80,322.36 271.10,311.78 271.40,320.42 271.70,312.74 272.00,321.18 272.30,309.58 272.60,318.30 272.90,310.35 273.20,319.45 273.50,310.42 273.80,319.13 274.10,308.06 274.40,317.77 274.70,309.95 275.00,317.51 275.30,306.26 275.60,315.82 275.90,305.72 276.20,314.51 276.50,303.57 276.80,311.82 277.10,302.69 277.40,312.02 277.70,306.13 278.00,316.40 278.30,304.28 278.60,316.53 278.90,306.39 279.20,314.30 279.50,304.03 279.80,318.38 280.10,303.01 280.40,311.71 280.70,298.65 281.00,311.41 281.30,301.42 281.60,310.11 281.90,300.03 282.20,310.41 282.50,299.94 282.80,309.97 283.10,298.88 283.40,307.57 283.70,299.58 284.00,308.30 284.30,298.75 284.60,309.34 284.90,300.63 285.20,308.41 285.50,300.56 285.80,309.46 286.10,296.49 286.40,308.92 286.70,299.69 287.00,308.43 287.30,298.59 287.60,306.18 287.90,298.53 288.20,307.80 288.50,297.94 288.80,307.64 289.10,297.60 289.40,307.54 289.70,293.48 290.00,305.13 290.30,294.78 290.60,304.52 290.90,296.12 291.20,304.79 291.50,294.24 291.80,304.68 292.10,294.87 292.40,304.42 292.70,295.41 293.00,304.15 293.30,294.01 293.60,303.34 293.90,292.80 294.20,301.18 294.50,288.89 294.80,300.48 295.10,290.70 295.40,298.59 295.70,290.41 296.00,299.15 296.30,288.84 296.60,298.79 296.90,287.89 297.20,298.25 297.50,289.02 297.80,296.75 298.10,288.39 298.40,296.38 298.70,286.78 299.00,294.87 299.30,286.74 299.60,294.51 299.90,285.92 300.20,293.16 300.50,282.13 300.80,295.23 301.10,283.49 301.40,291.36 301.70,282.51 302.00,292.37 302.30,281.48 302.60,291.13 302.90,280.07 303.20,290.49 303.50,279.89 303.80,288.55 304.10,279.07 304.40,288.32 304.70,279.47 305.00,288.12 305.30,280.54 305.60,293.05 305.90,280.33 306.20,289.54 306.50,276.43 306.80,289.14 307.10,278.42 307.40,286.47 307.70,277.31 308.00,286.73 308.30,275.53 308.60,285.54 308.90,274.42 309.20,284.77 309.50,275.30 309.80,288.00 310.10,275.48 310.40,285.19 310.70,275.62 311.00,287.56 311.30,277.99 311.60,286.90 311.90,279.18 312.20,285.92 312.50,277.97 312.80,286.72 313.10,279.02 313.40,287.77 313.70,278.18 314.00,286.00 314.30,278.69 314.60,286.88 314.90,280.00 315.20,285.64 315.50,277.15 315.80,285.67 316.10,279.25 316.40,288.58 316.70,277.70 317.00,285.22 317.30,273.43 317.60,285.83 317.90,277.16 318.20,284.45 318.50,277.81 318.80,286.71 319.10,277.16 319.40,289.85 319.70,277.69 320.00,288.10 320.30,277.65 320.60,287.60 320.90,277.43 321.20,289.93 321.50,279.63 321.80,289.25 322.10,279.89 322.40,288.62 322.70,279.05 323.00,285.91 323.30,278.72 323.60,286.74 323.90,278.33 324.20,285.85 324.50,278.93 324.80,287.06 325.10,276.16 325.40,286.43 325.70,278.34 326.00,286.73 326.30,279.12 326.60,286.78 326.90,279.65 327.20,287.33 327.50,277.93 327.80,287.81 328.10,280.00 328.40,288.46 328.70,279.54 329.00,287.51 329.30,278.50 329.60,286.95 329.90,278.68 330.20,287.05 330.50,279.64 330.80,287.62 331.10,280.86 331.40,289.06 331.70,279.81 332.00,286.91 332.30,279.90 332.60,287.13 332.90,278.84 333.20,288.78 333.50,278.51 333.80,290.57 334.10,279.39 334.40,287.12 334.70,279.78 335.00,288.30 335.30,280.65 335.60,288.27 335.90,280.64 336.20,289.72 336.50,280.36 336.80,288.88 337.10,281.73 337.40,287.77 337.70,281.24 338.00,288.81 338.30,280.86 338.60,287.97 338.90,279.79 339.20,289.42 339.50,281.52 339.80,289.18 340.10,280.61 340.40,290.92 340.70,283.94 341.00,291.95 341.30,282.12 341.60,290.77 341.90,283.50 342.20,291.25 342.50,284.26 342.80,290.41 343.10,282.09 343.40,291.02 343.70,284.43 344.00,293.78 344.30,284.63 344.60,289.92 344.90,283.30 345.20,291.21 345.50,284.04 345.80,290.52 346.10,283.44 346.40,290.48 346.70,284.64 347.00,292.64 347.30,282.83 347.60,290.27 347.90,281.30 348.20,290.93 348.50,281.99 348.80,291.16 349.10,281.59 349.40,289.54 349.70,280.87 350.00,289.32 350.30,283.26 350.60,289.18 350.90,280.35 351.20,288.87 351.50,283.41 351.80,289.92 352.10,281.08 352.40,290.68 352.70,279.80 353.00,290.73 353.30,283.72 353.60,291.48 353.90,282.30 354.20,291.35 354.50,282.73 354.80,288.93 355.10,280.03 355.40,288.17 355.70,281.67 356.00,289.97 356.30,281.21 356.60,289.48 356.90,282.78 357.20,290.51 357.50,279.31 357.80,297.17 358.10,280.40 358.40,291.50 358.70,280.38 359.00,287.00 359.30,277.46 359.60,285.85 359.90,278.74 360.20,290.19 360.50,279.14 360.80,285.35 361.10,277.27 361.40,284.64 361.70,272.61 362.00,285.59 362.30,276.45 362.60,287.32 362.90,277.09 363.20,285.44 363.50,278.64 363.80,285.96 364.10,278.46 364.40,286.39 364.70,277.92 365.00,287.47 365.30,278.86 365.60,286.07 365.90,279.34 366.20,286.31 366.50,279.49 366.80,288.34 367.10,274.31 367.40,285.32 367.70,279.02 368.00,285.91 368.30,274.58 368.60,286.14 368.90,276.31 369.20,286.25 369.50,279.18 369.80,288.31 370.10,281.59 370.40,288.77 370.70,282.44 371.00,288.88 371.30,281.62 371.60,290.00 371.90,280.48 372.20,288.39 372.50,279.20 372.80,286.32 373.10,277.67 373.40,286.45 373.70,278.01 374.00,286.57 374.30,278.74 374.60,288.20 374.90,277.46 375.20,286.53 375.50,277.80 375.80,286.41 376.10,274.04 376.40,286.66 376.70,280.30 377.00,287.04 377.30,279.66 377.60,287.67 377.90,279.90 378.20,286.48 378.50,278.63 378.80,285.68 379.10,277.25 379.40,285.98 379.70,278.50 380.00,287.19 380.30,279.94 380.60,288.59 380.90,281.01 381.20,286.78 381.50,279.89 381.80,290.18 382.10,279.93 382.40,286.62 382.70,279.58 383.00,290.77 383.30,277.15 383.60,289.28 383.90,280.96 384.20,290.76 384.50,282.22 384.80,290.20 385.10,281.70 385.40,289.98 385.70,281.81 386.00,289.76 386.30,279.53 386.60,288.99 386.90,280.07 387.20,291.83 387.50,278.08 387.80,287.50 388.10,279.58 388.40,288.81 388.70,280.43 389.00,288.74 389.30,279.45 389.60,291.75 389.90,282.02 390.20,291.65 390.50,281.25 390.80,290.93 391.10,278.85 391.40,290.48 391.70,280.54 392.00,289.11 392.30,279.83 392.60,287.51 392.90,276.36 393.20,292.57 393.50,278.66 393.80,288.17 394.10,279.09 394.40,288.32 394.70,278.30 395.00,287.64 395.30,279.29 395.60,290.41 395.90,280.78 396.20,291.01 396.50,281.78 396.80,292.29 397.10,279.06 397.40,291.05 397.70,280.86 398.00,290.47 398.30,281.86 398.60,291.88 398.90,279.45 399.20,290.61 399.50,280.34 399.80,288.73 400.10,280.01 400.40,288.52 400.70,278.34 401.00,286.33 401.30,277.15 401.60,286.98 401.90,278.58 402.20,287.29 402.50,277.02 402.80,285.18 403.10,274.38 403.40,282.26 403.70,273.27 404.00,280.81 404.30,272.21 404.60,282.95 404.90,274.04 405.20,283.30 405.50,274.67 405.80,284.42 406.10,275.60 406.40,285.03 406.70,275.71 407.00,284.02 407.30,275.88 407.60,283.92 407.90,275.33 408.20,282.59 408.50,274.15 408.80,285.36 409.10,274.40 409.40,283.30 409.70,269.66 410.00,282.95 410.30,275.50 410.60,284.41 410.90,274.80 411.20,284.62 411.50,274.21 411.80,284.36 412.10,275.22 412.40,282.91 412.70,275.12 413.00,284.46 413.30,274.69 413.60,284.88 413.90,274.83 414.20,283.04 414.50,271.77 414.80,282.37 415.10,273.72 415.40,283.26 415.70,275.01 416.00,284.07 416.30,275.50 416.60,284.15 416.90,274.08" fill="none" stroke="#0fbec0" stroke-width="0.9" stroke-linejoin="bevel"/>
<line x1="235.4" y1="303.6" x2="235.4" y2="333.5" stroke="#0fbec0" stroke-width="1.1"/>
<line x1="236.6" y1="306" x2="236.6" y2="331" stroke="#0fbec0" stroke-width="1.1"/>
<line x1="237.0" y1="309" x2="237.0" y2="332" stroke="#0fbec0" stroke-width="1.1"/>
<line x1="253.4" y1="311.3" x2="253.4" y2="326" stroke="#0fbec0" stroke-width="1.1"/>
<line x1="275.0" y1="298.2" x2="275.0" y2="315" stroke="#0fbec0" stroke-width="1.1"/>
<line x1="276" y1="300" x2="276" y2="314" stroke="#0fbec0" stroke-width="1.1"/>
<line x1="287" y1="291.7" x2="287" y2="303" stroke="#0fbec0" stroke-width="1.1"/>
<line x1="295" y1="284.6" x2="295" y2="296" stroke="#0fbec0" stroke-width="1.1"/>
<line x1="322" y1="270.2" x2="322" y2="285" stroke="#0fbec0" stroke-width="1.1"/>
<line x1="323" y1="272" x2="323" y2="286" stroke="#0fbec0" stroke-width="1.1"/>
<line x1="382" y1="271" x2="382" y2="297" stroke="#0fbec0" stroke-width="1.1"/>
<line x1="382.6" y1="274" x2="382.6" y2="296" stroke="#0fbec0" stroke-width="1.1"/>
<line x1="358" y1="274" x2="358" y2="290" stroke="#0fbec0" stroke-width="1.1"/>
<line x1="404" y1="272" x2="404" y2="288" stroke="#0fbec0" stroke-width="1.1"/>
<line x1="26.0" y1="92.4" x2="252.5" y2="92.4" stroke="#ff0000" stroke-width="1.3" stroke-dasharray="2.3 1.74" stroke-dashoffset="-0.9"/>
<line x1="26.0" y1="101.9" x2="252.5" y2="101.9" stroke="#ff0000" stroke-width="1.3" stroke-dasharray="2.3 1.74" stroke-dashoffset="-0.9"/>
<line x1="315.6" y1="56.0" x2="539.5" y2="56.0" stroke="#ff0000" stroke-width="1.3" stroke-dasharray="2.3 1.74" stroke-dashoffset="-0.9"/>
<line x1="315.6" y1="67.9" x2="539.5" y2="67.9" stroke="#ff0000" stroke-width="1.3" stroke-dasharray="2.3 1.74" stroke-dashoffset="-0.9"/>
<rect x="169.1" y="313.3" width="64.5" height="19.80000000000001" fill="none" stroke="#ff0000" stroke-width="1.6" stroke-dasharray="4 2"/>
<rect x="315.4" y="272.5" width="64.70000000000005" height="22.600000000000023" fill="none" stroke="#ff0000" stroke-width="1.6" stroke-dasharray="4 2"/>
<rect x="26.0" y="21.5" width="226.5" height="170.8" fill="none" stroke="#5a5a5a" stroke-width="1.5"/>
<rect x="315.6" y="20.3" width="223.89999999999998" height="172.29999999999998" fill="none" stroke="#5a5a5a" stroke-width="1.5"/>
<rect x="168.5" y="237.3" width="249.0" height="190.3" fill="none" stroke="#5a5a5a" stroke-width="1.5"/>
<line x1="142.6" y1="21.5" x2="142.6" y2="25.6" stroke="#111" stroke-width="1.5"/>
<path d="M139.4,25.1 L145.79999999999998,25.1 L142.6,28.6 z" fill="#111"/>
<line x1="433.0" y1="20.3" x2="433.0" y2="24.3" stroke="#111" stroke-width="1.5"/>
<path d="M429.8,23.8 L436.2,23.8 L433.0,26.9 z" fill="#111"/>
<line x1="291.0" y1="237.3" x2="291.0" y2="241.5" stroke="#111" stroke-width="1.5"/>
<path d="M287.8,241.0 L294.2,241.0 L291.0,244.2 z" fill="#111"/>
<line x1="53.5" y1="128.7" x2="29.88" y2="102.49" stroke="#ff0000" stroke-width="1.0"/>
<path d="M26.2,98.4 L31.81,100.75 L27.95,104.23 z" fill="#ff0000"/>
<line x1="338.7" y1="107.2" x2="318.97" y2="65.86" stroke="#ff0000" stroke-width="1.3" stroke-dasharray="3.5 1.3"/>
<path d="M316.6,60.9 L321.32,64.74 L316.62,66.98 z" fill="#ff0000"/>
<line x1="316.1" y1="341.8" x2="284.20" y2="314.85" stroke="#ff0000" stroke-width="1.4" stroke-dasharray="3.5 1.3"/>
<path d="M280.0,311.3 L285.88,312.86 L282.52,316.84 z" fill="#ff0000"/>
<line x1="168.5" y1="313.0" x2="35.51" y2="216.88" stroke="#ff0000" stroke-width="3" stroke-dasharray="8 2.3"/>
<path d="M30.0,212.9 L38.16,214.24 L33.83,220.23 z" fill="#ff0000"/>
<line x1="233.2" y1="313.0" x2="249.15" y2="219.70" stroke="#ff0000" stroke-width="3" stroke-dasharray="8 2.3"/>
<path d="M250.3,213.0 L252.70,220.92 L245.41,219.67 z" fill="#ff0000"/>
<line x1="233.1" y1="313.5" x2="232.9" y2="333.5" stroke="#ff0000" stroke-width="2.4" stroke-dasharray="8 2.3"/>
<line x1="315.9" y1="274.5" x2="315.90" y2="219.80" stroke="#ff0000" stroke-width="3" stroke-dasharray="8 2.3"/>
<path d="M315.9,213.0 L319.60,220.40 L312.20,220.40 z" fill="#ff0000"/>
<line x1="380.3" y1="273.2" x2="532.13" y2="216.38" stroke="#ff0000" stroke-width="3" stroke-dasharray="8 2.3"/>
<path d="M538.5,214.0 L532.87,220.06 L530.27,213.13 z" fill="#ff0000"/>
<text x="4.9" y="11.0" class="ax" font-size="8.9" text-anchor="start" textLength="18.2" lengthAdjust="spacing">N·m</text>
<text x="295.0" y="13.2" class="ax" font-size="8.9" text-anchor="start" textLength="18.2" lengthAdjust="spacing">N·m</text>
<text x="145.7" y="229.2" class="ax" font-size="9.6" text-anchor="start" textLength="19.6" lengthAdjust="spacing">N·m</text>
<text x="13.0" y="24.9" class="ax" font-size="8.9" text-anchor="middle" textLength="10.3" lengthAdjust="spacingAndGlyphs">2.0</text>
<text x="13.0" y="67.8" class="ax" font-size="8.9" text-anchor="middle" textLength="10.3" lengthAdjust="spacingAndGlyphs">1.0</text>
<text x="13.0" y="109.9" class="ax" font-size="8.9" text-anchor="middle" textLength="10.3" lengthAdjust="spacingAndGlyphs">0.0</text>
<text x="13.0" y="152.6" class="ax" font-size="8.9" text-anchor="middle" textLength="12.9" lengthAdjust="spacingAndGlyphs">-1.0</text>
<text x="302.6" y="24.2" class="ax" font-size="8.9" text-anchor="middle" textLength="10.1" lengthAdjust="spacingAndGlyphs">2.0</text>
<text x="302.6" y="67.6" class="ax" font-size="8.9" text-anchor="middle" textLength="10.1" lengthAdjust="spacingAndGlyphs">1.0</text>
<text x="302.6" y="110.3" class="ax" font-size="8.9" text-anchor="middle" textLength="10.1" lengthAdjust="spacingAndGlyphs">0.0</text>
<text x="302.6" y="153.1" class="ax" font-size="8.9" text-anchor="middle" textLength="12.0" lengthAdjust="spacingAndGlyphs">-1.0</text>
<text x="153.9" y="241.3" class="ax" font-size="9.4" text-anchor="middle" textLength="11.2" lengthAdjust="spacingAndGlyphs">2.0</text>
<text x="153.9" y="290.5" class="ax" font-size="9.4" text-anchor="middle" textLength="11.2" lengthAdjust="spacingAndGlyphs">1.0</text>
<text x="153.9" y="338.0" class="ax" font-size="9.4" text-anchor="middle" textLength="11.2" lengthAdjust="spacingAndGlyphs">0.0</text>
<text x="153.9" y="386.8" class="ax" font-size="9.4" text-anchor="middle" textLength="14.3" lengthAdjust="spacingAndGlyphs">-1.0</text>
<text x="25.6" y="202.7" class="ax" font-size="9.2" text-anchor="middle">0.0</text>
<text x="71.6" y="202.7" class="ax" font-size="9.2" text-anchor="middle">0.1</text>
<text x="120.3" y="202.7" class="ax" font-size="9.2" text-anchor="middle">0.2</text>
<text x="167.0" y="202.7" class="ax" font-size="9.2" text-anchor="middle">0.3</text>
<text x="212.5" y="202.7" class="ax" font-size="9.2" text-anchor="middle">0.4</text>
<text x="251.8" y="202.7" class="ax" font-size="9.2" text-anchor="middle">0.5</text>
<text x="315.5" y="202.1" class="ax" font-size="9.2" text-anchor="middle">1.2</text>
<text x="360.5" y="202.1" class="ax" font-size="9.2" text-anchor="middle">1.3</text>
<text x="408.0" y="202.1" class="ax" font-size="9.2" text-anchor="middle">1.4</text>
<text x="453.1" y="202.1" class="ax" font-size="9.2" text-anchor="middle">1.5</text>
<text x="499.5" y="202.1" class="ax" font-size="9.2" text-anchor="middle">1.6</text>
<text x="540.5" y="202.1" class="ax" font-size="9.2" text-anchor="middle">1.7</text>
<text x="168.0" y="442.0" class="ax" font-size="10.3" text-anchor="middle">0.0</text>
<text x="218.0" y="442.0" class="ax" font-size="10.3" text-anchor="middle">0.4</text>
<text x="267.3" y="442.0" class="ax" font-size="10.3" text-anchor="middle">0.8</text>
<text x="319.4" y="442.0" class="ax" font-size="10.3" text-anchor="middle">1.2</text>
<text x="368.0" y="442.0" class="ax" font-size="10.3" text-anchor="middle">1.6</text>
<text x="416.5" y="442.0" class="ax" font-size="10.3" text-anchor="middle">2.0</text>
<text x="128.4" y="213.3" class="cb" font-size="9.5" text-anchor="start" textLength="34.4" lengthAdjust="spacingAndGlyphs">Time (s)</text>
<text x="412.0" y="213.1" class="cb" font-size="9.5" text-anchor="start" textLength="34.4" lengthAdjust="spacingAndGlyphs">Time (s)</text>
<text x="273.4" y="454.5" class="cb" font-size="10.3" text-anchor="start" textLength="37.4" lengthAdjust="spacingAndGlyphs">Time (s)</text>
<text x="53.1" y="137.6" class="cb" font-size="9.7" text-anchor="start" textLength="179.6" lengthAdjust="spacingAndGlyphs">Averaged Torque = 0.2 N·m without load</text>
<text x="340.3" y="113.1" class="cb" font-size="9.7" text-anchor="start" textLength="181.2" lengthAdjust="spacingAndGlyphs">Averaged Torque = 1.0 N·m at 1 N·m load</text>
<text x="314.7" y="350.8" class="cb" font-size="10.8" text-anchor="start" textLength="66.1" lengthAdjust="spacingAndGlyphs">Active Torque</text>
<text x="148.1" y="85.8" class="cr" font-size="8.2" text-anchor="start" textLength="32.7" lengthAdjust="spacingAndGlyphs">0.35 N·m</text>
<text x="147.6" y="114.8" class="cr" font-size="8.2" text-anchor="start" textLength="33.2" lengthAdjust="spacingAndGlyphs">0.12 N·m</text>
<text x="445.5" y="50.1" class="cr" font-size="8.2" text-anchor="start" textLength="32.0" lengthAdjust="spacingAndGlyphs">1.18 N·m</text>
<text x="446.7" y="79.2" class="cr" font-size="8.2" text-anchor="start" textLength="32.4" lengthAdjust="spacingAndGlyphs">0.90 N·m</text>
<path d="M536.3,23.6 L539.2,20.6 L539.2,23.6 z" fill="#0fbec0"/>
</svg>
</body></html>
